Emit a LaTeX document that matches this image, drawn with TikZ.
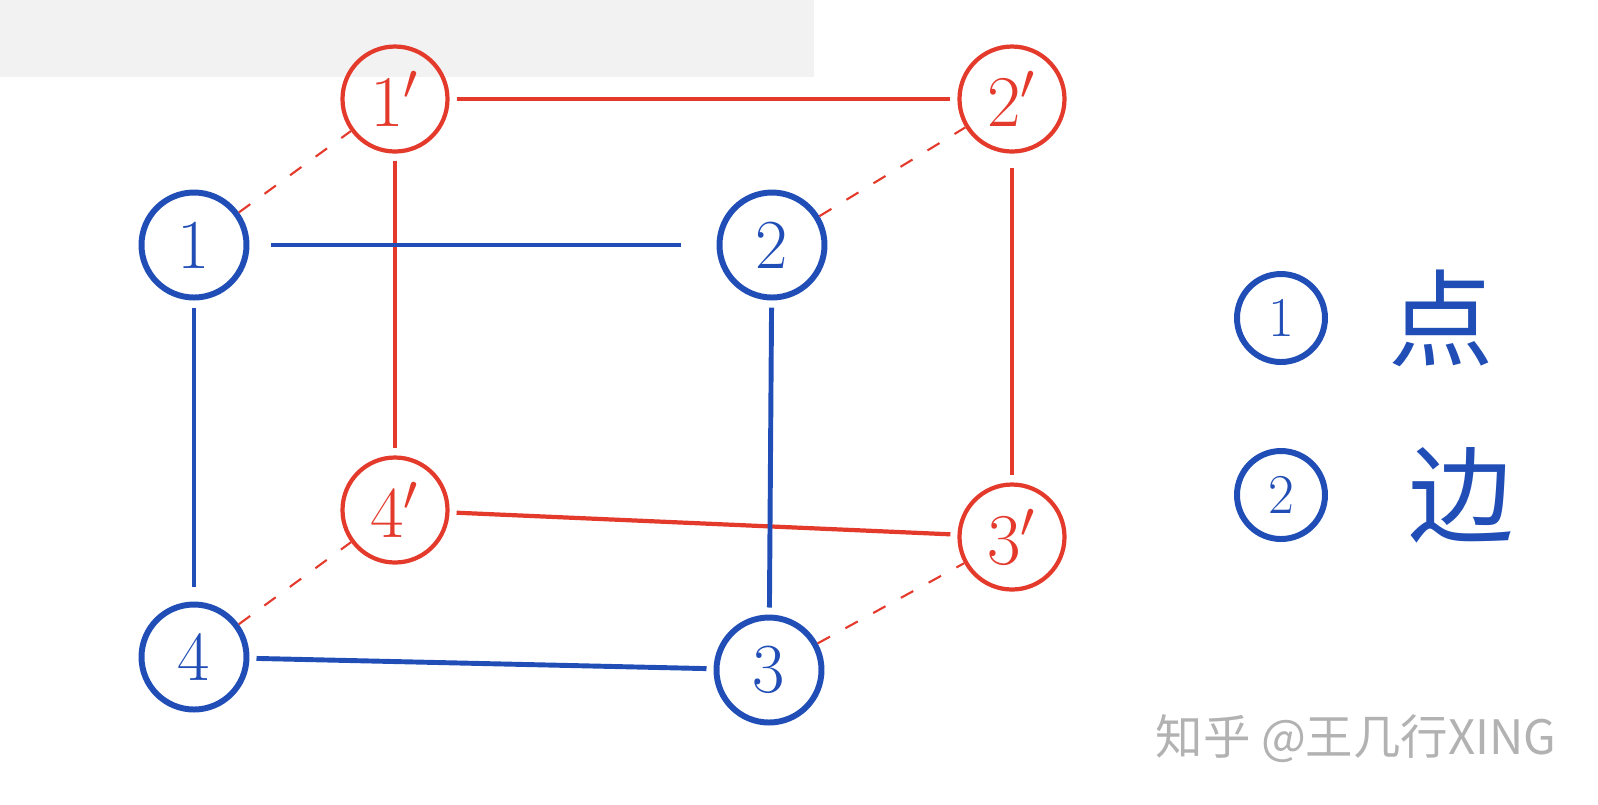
\documentclass[tikz,border=0pt]{standalone}
\usepackage{fontspec}
\newfontfamily\cjk{Noto Sans CJK SC}
\usetikzlibrary{automata, positioning}
\definecolor{fblue}{RGB}{32,78,182}
\definecolor{bred}{RGB}{228,58,44}
\definecolor{panel}{RGB}{242,242,243}
\definecolor{wmgray}{RGB}{178,178,178}
\tikzset{
  node distance=3cm,
  on grid,
  every state/.style={minimum size=1.05cm, inner sep=0pt, font=\fontsize{20}{24}\selectfont},
  front/.style={state, draw=fblue, text=fblue, line width=1.7pt},
  back/.style={state, draw=bred, text=bred, line width=1.2pt},
  fedge/.style={draw=fblue, line width=1.4pt},
  bedge/.style={draw=bred, line width=1.2pt},
  hidden/.style={draw=bred, line width=0.6pt, dash pattern=on 4pt off 5pt},
}

\begin{document}
\begin{tikzpicture}
      \useasboundingbox (0,0) rectangle (15.98,-8.04);
      \fill[panel] (0,0) rectangle (8.14,-0.77);

      \node[front] (n1) at (1.94,-2.45) {1};
      \node[front,right=5.78cm of n1] (n2) {2};
      \node[front,below=4.12cm of n1] (n4) {4};
      \node[front,below right=4.25cm and 5.75cm of n1] (n3) {3};

      \node[back,above right=1.46cm and 2.01cm of n1] (n1p) {$1'$};
      \node[back,right=6.17cm of n1p] (n2p) {$2'$};
      \node[back,below=4.11cm of n1p] (n4p) {$4'$};
      \node[back,below=4.38cm of n2p] (n3p) {$3'$};

      \draw[bedge] (n1p) edge[shorten <=2pt, shorten >=2pt]   (n2p)
                   (n1p) edge[shorten <=2pt, shorten >=2pt]   (n4p)
                   (n2p) edge[shorten <=4pt, shorten >=2pt]   (n3p)
                   (n4p) edge[shorten <=2pt, shorten >=2pt]   (n3p);

      \draw[fedge] (n1) edge[shorten <=0.22cm, shorten >=0.36cm] (n2)
                   (n1) edge[shorten <=2pt, shorten >=4pt]       (n4)
                   (n4) edge[shorten <=2pt, shorten >=2pt]       (n3)
                   (n2) edge[shorten <=2pt, shorten >=2pt]       (n3);

      \draw[hidden] (n1) edge (n1p)
                    (n2) edge (n2p)
                    (n3) edge (n3p)
                    (n4) edge (n4p);

      % legend
      \node[front,minimum size=0.88cm,font=\fontsize{16}{19}\selectfont] (lg1) at (12.81,-3.18) {1};
      \node[right=1.6cm of lg1,text=fblue,font=\cjk\fontsize{30}{34}\selectfont] (lgt1) {点};
      \node[front,minimum size=0.88cm,font=\fontsize{16}{19}\selectfont,below=1.77cm of lg1] (lg2) {2};
      \node[right=1.8cm of lg2,text=fblue,font=\cjk\fontsize{30}{34}\selectfont] (lgt2) {边};

      \node[text=wmgray,font=\cjk\fontsize{13.5}{16}\selectfont] (wm) at (13.56,-7.39) {知乎 @王几行XING};
    \end{tikzpicture}
\end{document}
